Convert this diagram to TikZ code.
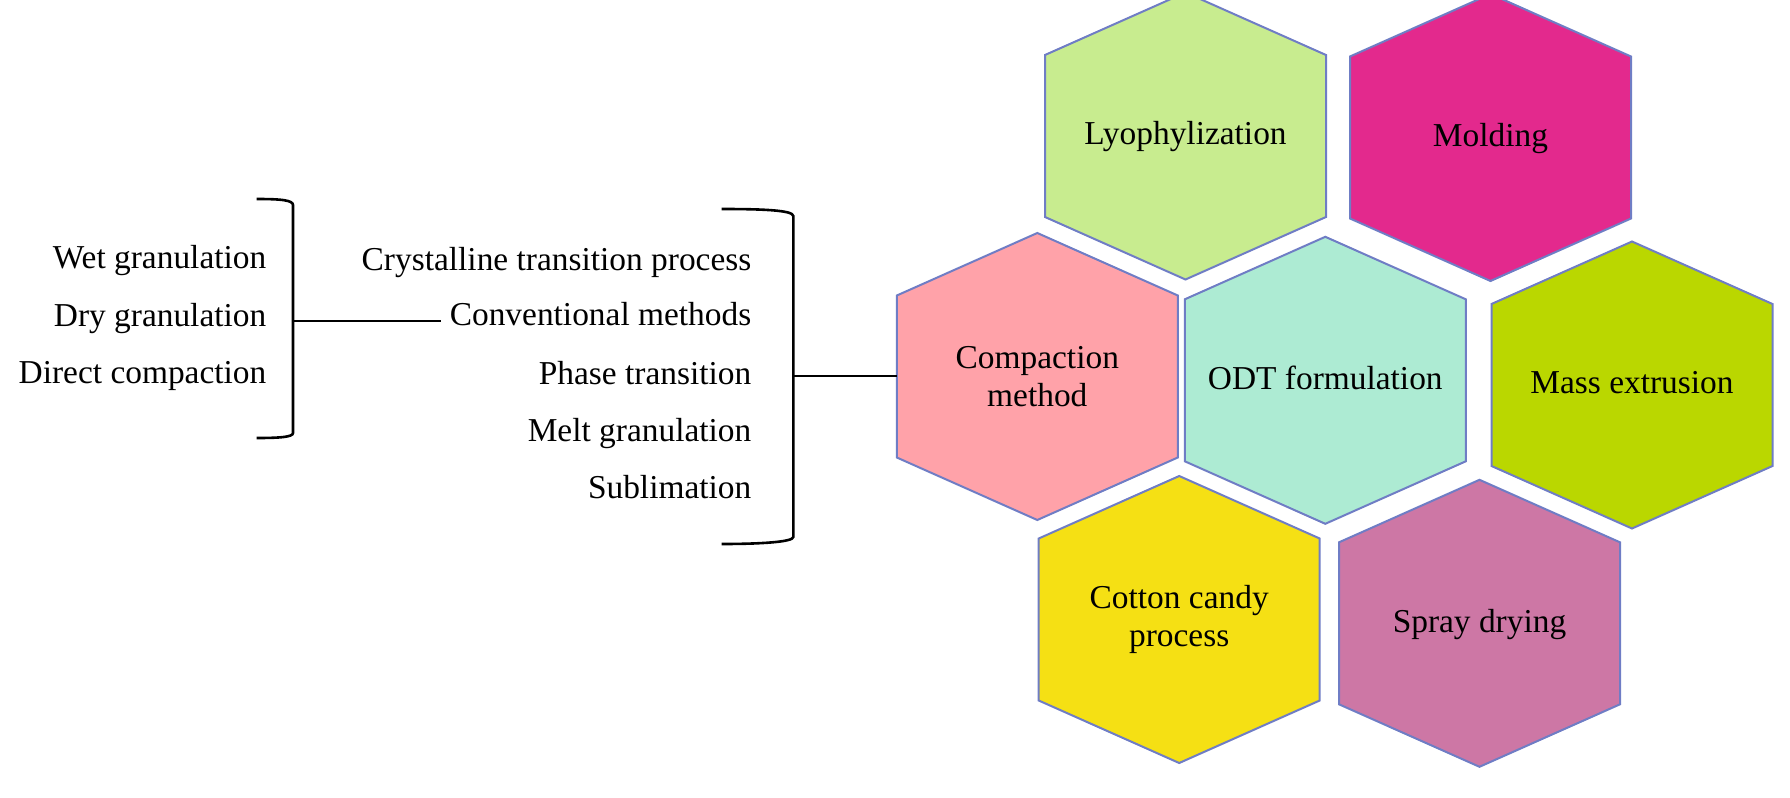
\documentclass[tikz,border=0pt]{standalone}
\usepackage{fontspec}
\setmainfont{Liberation Serif}
\definecolor{hexborder}{HTML}{6F7DC5}
\definecolor{clyo}{HTML}{C8EC8F}
\definecolor{cmold}{HTML}{E3298D}
\definecolor{ccomp}{HTML}{FFA2A9}
\definecolor{codt}{HTML}{ADEBD3}
\definecolor{cmass}{HTML}{BAD700}
\definecolor{ccot}{HTML}{F5E014}
\definecolor{cspray}{HTML}{CD77A5}
\tikzset{
  hexcell/.style={draw=hexborder, line width=1pt, line join=miter},
  hexlbl/.style={font=\fontsize{16.7}{19.2}\selectfont, inner sep=0pt, align=center},
  onelbl/.style={hexlbl, text height=0.7em, text depth=0.25em, yshift=-2.2pt},
  listitem/.style={font=\fontsize{16.7}{19.2}\selectfont, inner xsep=4.3pt, inner ysep=0pt, anchor=base east},
  brk/.style={line width=1.3pt, black},
  link/.style={line width=1.2pt, black}
}
\newcommand\hexcell[6]{%
  \begin{scope}[shift={(#2,#3)}]
    \draw[hexcell, fill=#4] (-140.5,-81) -- (0,-143.5) -- (140.5,-81) -- (140.5,81) -- (0,143.5) -- (-140.5,81) -- cycle;
    \node[#6] (#1) at (0,0) {#5};
    \coordinate (#1-w) at (-140.5,0);
  \end{scope}}
\begin{document}
\begin{tikzpicture}[x=0.5pt, y=-0.5pt]
  \useasboundingbox (0,0) rectangle (1790,798);
  % hexagons
  \hexcell{lyo}{1185.5}{136}{clyo}{Lyophylization}{onelbl}
  \hexcell{mold}{1490.5}{137.5}{cmold}{Molding}{onelbl}
  \hexcell{comp}{1037.3}{376.5}{ccomp}{Compaction\\method}{hexlbl}
  \hexcell{odt}{1325.3}{380.3}{codt}{ODT formulation}{onelbl}
  \hexcell{mass}{1632}{385}{cmass}{Mass extrusion}{onelbl}
  \hexcell{cot}{1179.2}{619.5}{ccot}{Cotton candy\\process}{hexlbl}
  \hexcell{spray}{1479.5}{623.3}{cspray}{Spray drying}{onelbl}
  % left list
  \node[listitem] (wet) at (275.3,268.3) {Wet granulation};
  \node[listitem] (dry) at (275.3,326.7) {Dry granulation};
  \node[listitem] (direct) at (275.3,383) {Direct compaction};
  % middle list
  \node[listitem] (cryst) at (760.3,270) {Crystalline transition process};
  \node[listitem] (conv) at (760.3,325.7) {Conventional methods};
  \node[listitem] (phase) at (760.3,384) {Phase transition};
  \node[listitem] (melt) at (760.3,441.7) {Melt granulation};
  \node[listitem] (subl) at (760.3,498.3) {Sublimation};
  % brackets
  \draw[brk] (256.7,199) .. controls (280,199) and (293,200) .. (293,205) -- (293,433) .. controls (293,437) and (280,438) .. (256.7,438);
  \draw[brk] (721.7,209) .. controls (760,209) and (793.3,210) .. (793.3,216) -- (793.3,537) .. controls (793.3,542) and (760,544) .. (721.7,544);
  \coordinate (lbr) at (293,320.7);
  \coordinate (rbr) at (793.3,375.7);
  % connectors
  \draw[link] (lbr) -- (lbr -| conv.west);
  \draw[link] (rbr) -- (rbr -| comp-w);
\end{tikzpicture}
\end{document}
